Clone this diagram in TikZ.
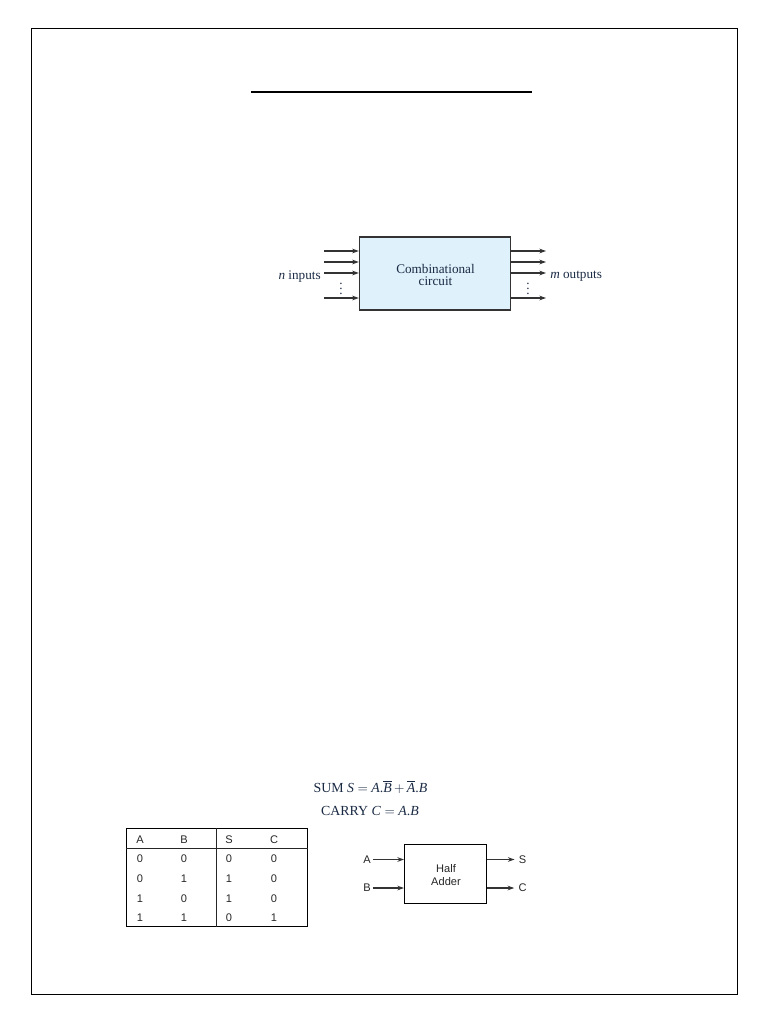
\documentclass[tikz,border=0pt]{standalone}
\usepackage{fontspec}
\setmainfont{Liberation Serif}
\newfontfamily\tablefont{Liberation Sans}
\usetikzlibrary{arrows.meta}
\definecolor{boxblue}{HTML}{DFF1FB}
\definecolor{inkblue}{HTML}{1A2A44}
\tikzset{
    sigline/.style={-{Stealth[length=5pt,width=3.5pt]},line width=0.8pt,draw=black!80},
    serifLabel/.style={inner sep=0pt,text=inkblue,font=\fontsize{9.9}{10}\selectfont},
    sumLabel/.style={inner sep=0pt,text=inkblue,font=\fontsize{10.4}{12}\selectfont},
    sansLabel/.style={inner sep=0pt,text=black!85,font=\tablefont\fontsize{8.3}{9.5}\selectfont}
}
\begin{document}
\begin{tikzpicture}[x=0.75pt,y=-0.75pt]
    \useasboundingbox (0,0) rectangle (768,1024);
    \node[draw=black,line width=0.75pt,minimum width=529.5pt,minimum height=723.75pt,inner sep=0pt] (page) at (384,511.5) {};
    \coordinate (ruleL) at (251,92.5);
    \coordinate (ruleR) at (532,92.5);
    \draw[line width=1.5pt] (ruleL) -- (ruleR);

    % combinational circuit
    \node[draw=black!80,line width=0.8pt,fill=boxblue,minimum width=113.5pt,minimum height=54.75pt,inner sep=0pt] (comb) at (435,273.5) {};
    \node[serifLabel,align=center] (combText) at (435.5,275) {Combinational\\[-0.5pt]circuit};
    \foreach \name/\ypos in {a/251,b/262,c/273,d/298} {
        \coordinate (in\name) at (324,\ypos);
        \coordinate (out\name) at (546,\ypos);
        \draw[sigline] (in\name) -- (in\name -| comb.west);
        \draw[sigline] (out\name -| comb.east) -- (out\name);
    }
    \node[serifLabel,anchor=east] (inLabel) at (321,276.5) {\textit{n} inputs};
    \node[serifLabel,anchor=west] (outLabel) at (550,276.5) {\textit{m} outputs};
    \node[serifLabel] (inDots) at (341,285) {$\vdots$};
    \node[serifLabel] (outDots) at (528,285) {$\vdots$};

    % equations
    \node[sumLabel] (sumEq) at (370.5,787) {SUM \textit{S} $=$ \textit{A}.$\overline{\mbox{\textit{B}}}$\,$+$\,$\overline{\mbox{\textit{A}}}$.\textit{B}};
    \node[sumLabel] (carryEq) at (370,810.5) {CARRY \textit{C} $=$ \textit{A}.\textit{B}};

    % truth table
    \node[draw=black,line width=0.8pt,minimum width=135.5pt,minimum height=73.5pt,inner sep=0pt] (tbl) at (216.75,877.5) {};
    \node[inner sep=0pt] (tblSplit) at (216.5,848.5) {};
    \draw[line width=0.8pt,draw=black!85] (tblSplit -| tbl.west) -- (tblSplit -| tbl.east);
    \draw[line width=0.8pt,draw=black!85] (tblSplit |- tbl.north) -- (tblSplit |- tbl.south);
    \foreach \rowY/\aval/\bval/\sval/\cval [count=\r] in {840/A/B/S/C,859/0/0/0/0,879/0/1/1/0,899/1/0/1/0,918/1/1/0/1} {
        \node[sansLabel] (cellA\r) at (140,\rowY) {\aval};
        \node[sansLabel] (cellB\r) at (184,\rowY) {\bval};
        \node[sansLabel] (cellS\r) at (229,\rowY) {\sval};
        \node[sansLabel] (cellC\r) at (274,\rowY) {\cval};
    }

    % half adder
    \node[draw=black,line width=0.8pt,minimum width=61.5pt,minimum height=44pt,inner sep=0pt] (adder) at (445.5,874) {};
    \node[sansLabel,align=center] (adderText) at (446,875) {Half\\[0.5pt]Adder};
    \node[sansLabel] (inA) at (367,859.5) {A};
    \node[sansLabel] (inB) at (367,888) {B};
    \node[sansLabel] (outS) at (522.5,859.5) {S};
    \node[sansLabel] (outC) at (522.5,888) {C};
    \draw[sigline] (inA.east) ++(2.5,0) -- (inA -| adder.west);
    \draw[sigline] (inB.east) ++(2.5,0) -- (inB -| adder.west);
    \draw[sigline] (outS -| adder.east) -- ([xshift=-3pt]outS.west);
    \draw[sigline] (outC -| adder.east) -- ([xshift=-3pt]outC.west);
\end{tikzpicture}
\end{document}
